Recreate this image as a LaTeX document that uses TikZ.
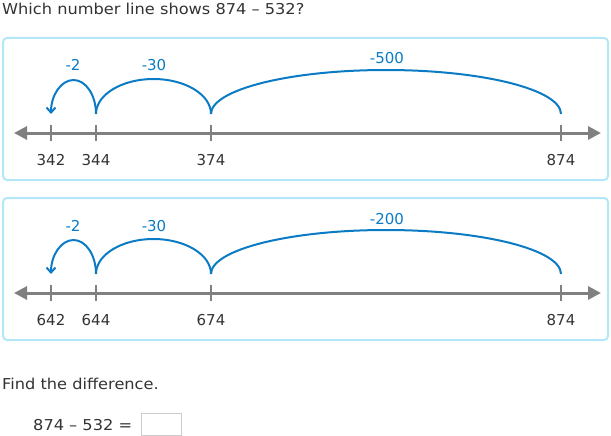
\documentclass[tikz,border=0pt]{standalone}
\usepackage{fontspec}
\setmainfont{DejaVu Sans}
\newfontfamily\widefont[FakeStretch=1.08]{DejaVu Sans}
\usetikzlibrary{arrows.meta}
\definecolor{jump}{HTML}{0A7BC4}
\definecolor{axis}{HTML}{808080}
\definecolor{frame}{HTML}{B3E6F7}
\definecolor{txt}{HTML}{333333}
\tikzset{
  txtstyle/.style={font=\widefont\fontsize{15}{17}\selectfont, text=txt, inner sep=0pt},
  numlab/.style={font=\fontsize{15}{17}\selectfont, text=txt, inner sep=0pt, anchor=base},
  jumplab/.style={font=\fontsize{15}{17}\selectfont, text=jump, inner sep=0pt, anchor=base},
  panel/.style={draw=frame, line width=2pt, rounded corners=4pt},
  axisline/.style={draw=axis, line width=3pt, {Triangle[length=13pt,width=13pt]}-{Triangle[length=13pt,width=13pt]}},
  tickmark/.style={draw=axis, line width=2pt},
  jumparc/.style={draw=jump, line width=2pt},
}
\newcommand{\mypanel}[6]{%
  \begin{scope}[yshift=#1]
  \draw[panel] (3,38) rectangle (608,180);
  \coordinate (L#6) at (14,133); \coordinate (R#6) at (601,133);
  \draw[axisline] (L#6) -- (R#6);
  \foreach \xx/\nm/\lab in {51/a/#2,96/b/#3,211/c/#4,561/d/#5}{
    \coordinate (t\nm#6) at (\xx,133);
    \draw[tickmark] (\xx,125) -- (\xx,141);
    \node[numlab] (n\nm#6) at (\xx,165) {\lab};
  }
  \end{scope}}
\begin{document}
\begin{tikzpicture}[x=1pt,y=-1pt]
\useasboundingbox (0,0) rectangle (611,436);
\node[txtstyle, anchor=base west] (title) at (2,15) {Which number line shows 874 – 532?};
% panel 1
\mypanel{0pt}{342}{344}{374}{874}{1}
\coordinate (sb1) at (96,114); \coordinate (sc1) at (211,114); \coordinate (sd1) at (561,114);
\draw[jumparc, -{Straight Barb[length=5pt,width=9pt]}] (sb1) arc[start angle=0,end angle=-180,x radius=22.5,y radius=34];
\draw[jumparc] (sc1) arc[start angle=0,end angle=-180,x radius=57.5,y radius=35];
\draw[jumparc] (sd1) arc[start angle=0,end angle=-180,x radius=175,y radius=44];
\node[jumplab] (j1a) at (73,71) {-2};
\node[jumplab] (j1b) at (154,71) {-30};
\node[jumplab] (j1c) at (387,64) {-500};
% panel 2
\mypanel{-160pt}{642}{644}{674}{874}{2}
\coordinate (sb2) at (96,274); \coordinate (sc2) at (211,274); \coordinate (sd2) at (561,274);
\draw[jumparc, -{Straight Barb[length=5pt,width=9pt]}] (sb2) arc[start angle=0,end angle=-180,x radius=22.5,y radius=34];
\draw[jumparc] (sc2) arc[start angle=0,end angle=-180,x radius=57.5,y radius=35];
\draw[jumparc] (sd2) arc[start angle=0,end angle=-180,x radius=175,y radius=44];
\node[jumplab] (j2a) at (73,231) {-2};
\node[jumplab] (j2b) at (154,231) {-30};
\node[jumplab] (j2c) at (387,224) {-200};
% question
\node[txtstyle, anchor=base west] (find) at (2,389) {Find the difference.};
\node[txtstyle, anchor=base west] (eq) at (33,430) {874 – 532 =};
\node[draw=black!20, line width=1pt, minimum width=40pt, minimum height=22pt, inner sep=0pt, anchor=north west] (ans) at (140.5,412.5) {};
\end{tikzpicture}
\end{document}
